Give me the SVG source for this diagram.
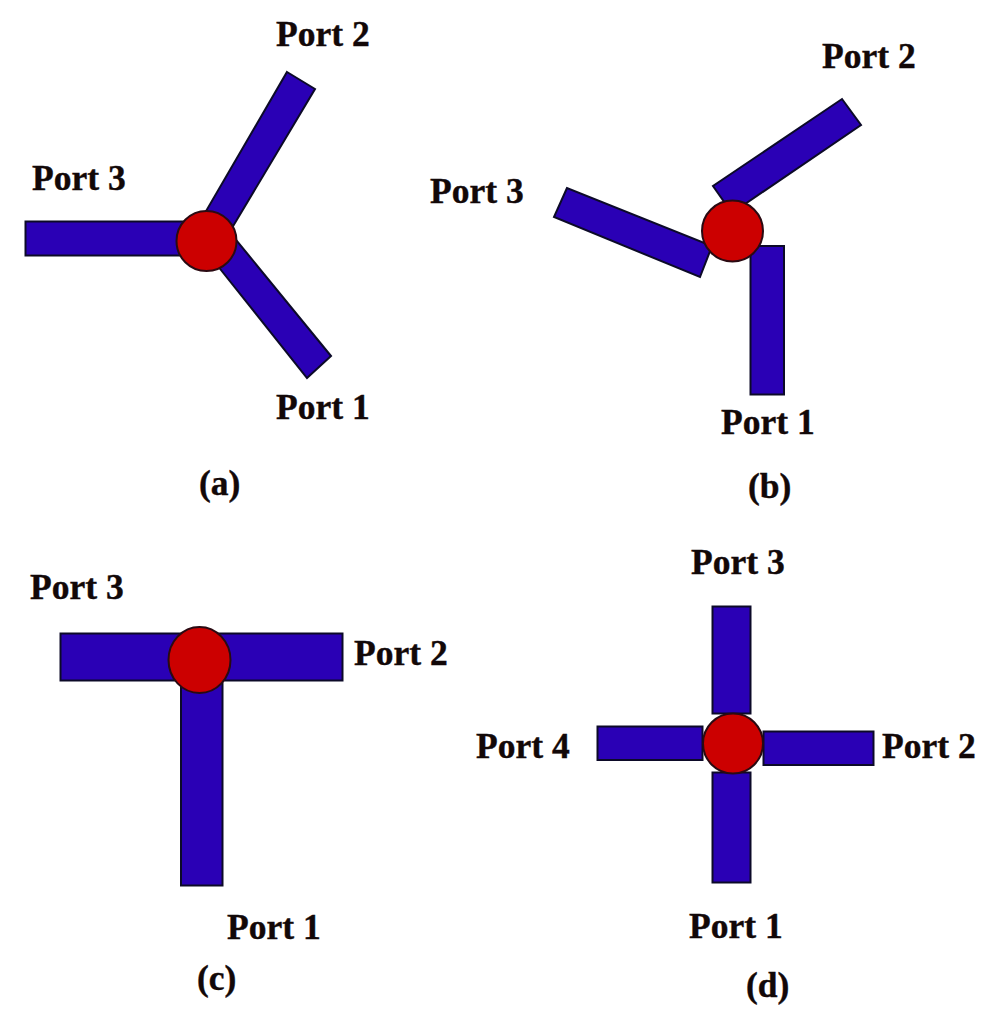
<svg xmlns="http://www.w3.org/2000/svg" width="1004" height="1025" viewBox="0 0 1004 1025">
<style>
.arm{fill:#2a00b5;stroke:#0c0a28;stroke-width:2;stroke-linejoin:miter}
.hub{fill:#cc0000;stroke:#2a0a12;stroke-width:2}
text{font-family:"Liberation Serif","Times New Roman",serif;font-weight:bold;font-size:35.5px;fill:#120808;stroke:#120808;stroke-width:0.4}
</style>
<rect width="1004" height="1025" fill="#ffffff"/>
<g id="diagram-a">
<g id="a-connectors">
<rect class="arm" x="25.5" y="221.5" width="165" height="34"/>
<polygon class="arm" points="287,72 315,89 229,233 202,218"/>
<polygon class="arm" points="331,356 307,378 213,260 228,230"/>
</g>
<g id="a-hub"><circle class="hub" cx="206.5" cy="241" r="30"/></g>
<text x="276" y="46">Port 2</text>
<text x="32" y="190">Port 3</text>
<text x="276" y="419">Port 1</text>
<text x="199" y="495">(a)</text>
</g>
<g id="diagram-b">
<g id="b-connectors">
<polygon class="arm" points="842,99 861,125 745,204 727,206 713,186"/>
<polygon class="arm" points="567,188 554,217 700,277 712,246"/>
<rect class="arm" x="750.5" y="246" width="33.5" height="148.5"/>
</g>
<g id="b-hub"><circle class="hub" cx="732.5" cy="231" r="30.5"/></g>
<text x="822" y="68">Port 2</text>
<text x="430" y="203">Port 3</text>
<text x="721" y="434">Port 1</text>
<text x="748" y="498">(b)</text>
</g>
<g id="diagram-c">
<g id="c-connectors">
<rect class="arm" x="60.5" y="633.5" width="282" height="47"/>
<rect class="arm" x="181" y="681" width="41.5" height="204.5"/>
</g>
<g id="c-hub"><ellipse class="hub" cx="199.5" cy="660" rx="31" ry="33"/></g>
<text x="30" y="599">Port 3</text>
<text x="354" y="665">Port 2</text>
<text x="227" y="939">Port 1</text>
<text x="197" y="990">(c)</text>
</g>
<g id="diagram-d">
<g id="d-connectors">
<rect class="arm" x="712.5" y="606.5" width="38" height="107"/>
<rect class="arm" x="712.5" y="772.5" width="38" height="110"/>
<rect class="arm" x="597.5" y="726.5" width="105" height="33.5"/>
<rect class="arm" x="763.5" y="731.5" width="110" height="33.5"/>
</g>
<g id="d-hub"><circle class="hub" cx="733" cy="743.5" r="30"/></g>
<text x="691" y="574">Port 3</text>
<text x="476" y="758">Port 4</text>
<text x="882" y="758">Port 2</text>
<text x="689" y="938">Port 1</text>
<text x="746" y="997">(d)</text>
</g>
</svg>
